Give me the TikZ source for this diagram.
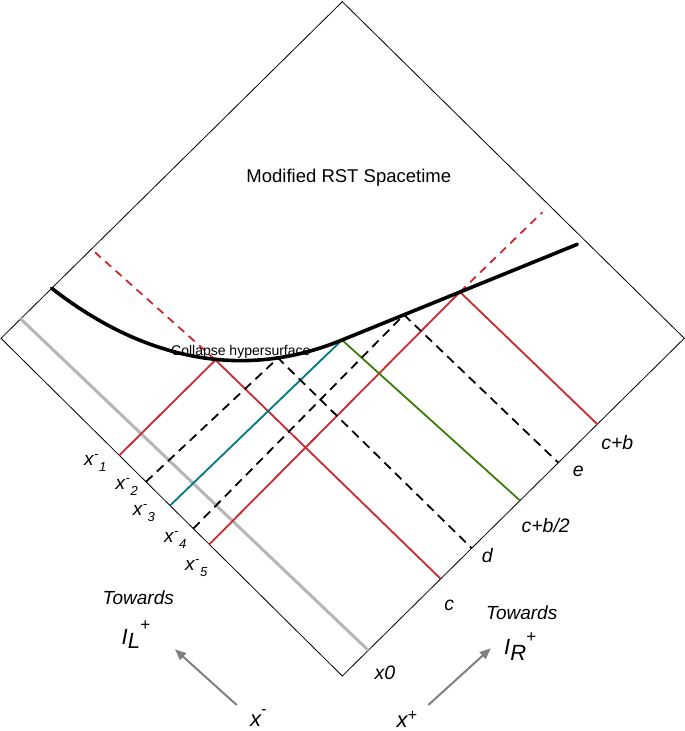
\documentclass[tikz,border=0pt]{standalone}
\usepackage{fontspec}
\setmainfont{Liberation Sans}
\usetikzlibrary{arrows.meta,calc}
\definecolor{rl}{RGB}{204,40,48}
\definecolor{tl}{RGB}{0,122,128}
\definecolor{gl}{RGB}{60,125,10}
\definecolor{lg}{RGB}{182,182,182}
\definecolor{ag}{RGB}{128,128,128}
\newcommand{\xlab}[1]{x\kern0.5pt\raisebox{7pt}{\fontsize{13}{13}\selectfont -}\kern0.5pt\raisebox{-6.5pt}{\fontsize{13}{13}\selectfont #1}}
\tikzset{
  frame/.style={draw=black, line width=0.8pt, line join=miter},
  redln/.style={draw=rl, line width=1.8pt},
  reddash/.style={draw=rl, line width=1.8pt, dash pattern=on 8pt off 6pt},
  blkdash/.style={draw=black, line width=1.8pt, dash pattern=on 9pt off 6pt},
  tealln/.style={draw=tl, line width=1.8pt},
  greenln/.style={draw=gl, line width=1.8pt},
  grayln/.style={draw=lg, line width=3pt},
  curveln/.style={draw=black, line width=3.6pt, line cap=round},
  arr/.style={draw=ag, line width=2pt, -{Triangle[length=11pt,width=9pt]}},
  lbl/.style={inner sep=0pt, font=\fontsize{19.5}{22}\selectfont\itshape},
  xlbl/.style={inner sep=0pt, anchor=base west, font=\fontsize{19}{22}\selectfont\itshape},
}
\begin{document}
\begin{tikzpicture}[x=1pt,y=-1pt]
\useasboundingbox (0,0) rectangle (685,731);
% frame corners
\coordinate (T) at (342.3,1.7);
\coordinate (L) at (1,338.3);
\coordinate (R) at (684.3,338.3);
\coordinate (Bt) at (342.3,676);
\draw[frame] (T) -- (L) -- (Bt) -- (R) -- cycle;
% points on lower-left edge
\coordinate (A1) at ($(L)!0.3466!(Bt)$);
\coordinate (A2) at ($(L)!0.4248!(Bt)$);
\coordinate (A3) at ($(L)!0.4952!(Bt)$);
\coordinate (A4) at ($(L)!0.5634!(Bt)$);
\coordinate (A5) at ($(L)!0.6103!(Bt)$);
% points on lower-right edge
\coordinate (Gb) at ($(Bt)!0.076!(R)$);
\coordinate (C) at ($(Bt)!0.2877!(R)$);
\coordinate (Dd) at ($(Bt)!0.3784!(R)$);
\coordinate (G) at ($(Bt)!0.5196!(R)$);
\coordinate (E) at ($(Bt)!0.6316!(R)$);
\coordinate (CB) at ($(Bt)!0.7456!(R)$);
% points on upper-left edge
\coordinate (Gt) at ($(L)!0.0577!(T)$);
\coordinate (S0) at ($(L)!0.1486!(T)$);
% interior points
\coordinate (P1) at (215.5,360);
\coordinate (Q1) at (278,358);
\coordinate (P3) at (342,340);
\coordinate (Q2) at (404,314.8);
\coordinate (P2) at (460,292);
\coordinate (Ce) at (577.3,244.3);
\coordinate (D1) at (95,252.3);
\coordinate (D2) at (542.3,212.3);
% gray line
\draw[grayln] (Gt) -- (Gb);
% red lines
\draw[redln] (A1) -- (P1) -- (C);
\draw[reddash] (P1) -- (D1);
\draw[redln] (A5) -- (P2) -- (CB);
\draw[reddash] (P2) -- (D2);
% teal and green
\draw[tealln] (A3) -- (P3);
\draw[greenln] (P3) -- (G);
% black dashed
\draw[blkdash] (A2) -- (Q1) -- (Dd);
\draw[blkdash] (A4) -- (Q2) -- (E);
% collapse curve
\draw[curveln] (S0) .. controls (150,365) and (250,378) .. (P3) -- (Ce);
% texts
\node[inner sep=0pt, anchor=base, font=\fontsize{18.5}{22}\selectfont] (title) at (348.8,182.3) {Modified RST Spacetime};
\node[inner sep=0pt, anchor=base, font=\fontsize{14}{16}\selectfont] (coll) at (240.8,355.5) {Collapse hypersurface};
\node[lbl] (lc) at (449.3,605) {c};
\node[lbl] (ld) at (487.3,556) {d};
\node[lbl] (lcb2) at (545.7,526) {c+b/2};
\node[lbl] (le) at (578.3,471.7) {e};
\node[lbl] (lcb) at (617.3,442.3) {c+b};
\node[lbl] (lx0) at (384.8,672.7) {x0};
\node[xlbl] (xl1) at (84,465) {\xlab{1}};
\node[xlbl] (xl2) at (115.5,489.3) {\xlab{2}};
\node[xlbl] (xl3) at (132.7,515) {\xlab{3}};
\node[xlbl] (xl4) at (164,542) {\xlab{4}};
\node[xlbl] (xl5) at (185,570.3) {\xlab{5}};
\node[lbl, font=\fontsize{19}{22}\selectfont\itshape] (towL) at (138.3,597.5) {Towards};
\node[lbl, font=\fontsize{19}{22}\selectfont\itshape] (towR) at (521.7,612.5) {Towards};
\node[inner sep=0pt, anchor=base west, font=\fontsize{22}{24}\selectfont\itshape] (IL) at (121.5,644) {I\raisebox{-4pt}{L}\raisebox{14pt}{\fontsize{17}{17}\selectfont +}};
\node[inner sep=0pt, anchor=base west, font=\fontsize{22}{24}\selectfont\itshape] (IR) at (504,654) {I\raisebox{-6pt}{R}\raisebox{12pt}{\fontsize{17}{17}\selectfont +}};
\node[inner sep=0pt, anchor=base west, font=\fontsize{22}{24}\selectfont\itshape] (xm) at (250,726.5) {x\raisebox{12pt}{\fontsize{16}{16}\selectfont -}};
\node[inner sep=0pt, anchor=base west, font=\fontsize{22}{24}\selectfont\itshape] (xp) at (396.5,727.5) {x\raisebox{7pt}{\fontsize{16}{16}\selectfont +}};
% arrows
\coordinate (aLt) at (236.7,705);
\coordinate (aLh) at (175,649.3);
\coordinate (aRt) at (428.3,705);
\coordinate (aRh) at (490.7,648.3);
\draw[arr] (aLt) -- (aLh);
\draw[arr] (aRt) -- (aRh);
\end{tikzpicture}
\end{document}
